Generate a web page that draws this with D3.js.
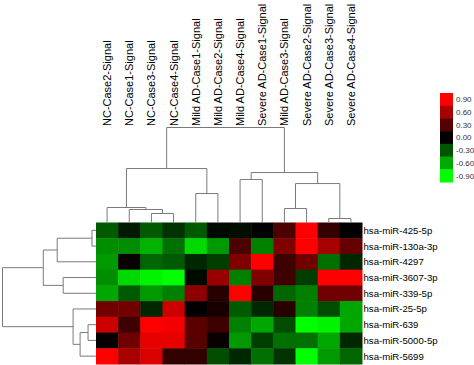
<!DOCTYPE html>
<html>
<head>
<meta charset="utf-8">
<script src="https://cdnjs.cloudflare.com/ajax/libs/d3/7.8.5/d3.min.js"></script>
<style>
  body { margin: 0; background: #fff; }
  svg { display: block; font-family: "Liberation Sans", Arial, sans-serif; }
</style>
</head>
<body>
<script>
// column order as displayed
var samples = ["NC-Case2-Signal", "NC-Case1-Signal", "NC-Case3-Signal", "NC-Case4-Signal",
  "Mild AD-Case1-Signal", "Mild AD-Case2-Signal", "Mild AD-Case4-Signal", "Severe AD-Case1-Signal",
  "Mild AD-Case3-Signal", "Severe AD-Case2-Signal", "Severe AD-Case3-Signal", "Severe AD-Case4-Signal"];

var mirnas = ["hsa-miR-425-5p", "hsa-miR-130a-3p", "hsa-miR-4297", "hsa-miR-3607-3p",
  "hsa-miR-339-5p", "hsa-miR-25-5p", "hsa-miR-639", "hsa-miR-5000-5p", "hsa-miR-5699"];

// one row per miRNA, one value per sample
var values = [
  [-0.32, -0.09, -0.32, -0.18, -0.32, -0.03, -0.05, 0.00, 0.27, 0.90, 0.18, 0.00],
  [-0.50, -0.50, -0.63, -0.40, -0.77, -0.54, 0.27, -0.45, 0.45, 0.90, 0.59, 0.36],
  [-0.54, 0.03, -0.36, -0.32, -0.14, -0.22, 0.45, 0.90, 0.22, 0.40, -0.40, -0.14],
  [-0.50, -0.77, -0.86, -0.90, -0.03, 0.54, -0.45, 0.45, 0.22, -0.22, 0.90, 0.90],
  [-0.59, -0.32, -0.54, -0.45, 0.50, 0.14, 0.90, 0.14, -0.36, -0.45, 0.40, 0.40],
  [0.40, 0.40, -0.14, 0.72, 0.00, 0.09, -0.32, -0.14, 0.14, -0.45, -0.27, -0.59],
  [0.72, 0.22, 0.90, 0.86, 0.32, 0.22, -0.45, -0.59, -0.27, -0.90, -0.86, -0.59],
  [0.02, 0.40, 0.81, 0.81, 0.32, 0.03, -0.54, -0.22, -0.40, -0.40, -0.59, -0.14],
  [0.90, 0.59, 0.77, 0.18, 0.18, -0.27, -0.14, -0.40, -0.18, -0.90, -0.54, -0.36]
];

// hclust style merges: negative = leaf (1-based), positive = earlier merge; third = height
var colMerge = [
  [-3, -4, 0.095], [-2, 1, 0.137], [-1, 2, 0.158], [-5, -6, 0.305], [3, 4, 0.568],
  [-7, -8, 0.453], [-9, -10, 0.147], [-11, -12, 0.042], [7, 8, 0.41], [6, 9, 0.526], [5, 10, 1.0]
];
var rowMerge = [
  [-1, -2, 0.043], [1, -3, 0.415], [-4, -5, 0.351], [2, 3, 0.564],
  [-7, -8, 0.085], [5, -9, 0.17], [-6, 6, 0.245], [4, 7, 1.0]
];

var legendValues = [0.90, 0.60, 0.30, 0.00, -0.30, -0.60, -0.90];

var width = 474, height = 365;
var hm = {left: 96, right: 362, top: 222.5, bottom: 364};

var svg = d3.select("body").append("svg")
  .attr("width", width)
  .attr("height", height);

var x = d3.scaleBand().domain(d3.range(samples.length)).range([hm.left, hm.right]);
var y = d3.scaleBand().domain(d3.range(mirnas.length)).range([hm.top, hm.bottom]);

var color = d3.scaleLinear()
  .domain([-0.9, 0, 0.9])
  .range(["#00ff00", "#000000", "#ff0000"])
  .clamp(true);

// cells
var cells = [];
values.forEach(function(row, i) {
  row.forEach(function(v, j) { cells.push({r: i, c: j, v: v}); });
});

svg.append("g").selectAll("rect")
  .data(cells)
  .enter()
  .append("rect")
  .attr("x", d => x(d.c))
  .attr("y", d => y(d.r))
  .attr("width", x.bandwidth() + 0.5)
  .attr("height", y.bandwidth() + 0.5)
  .attr("fill", d => color(d.v));

// column labels
svg.append("g").selectAll("text")
  .data(samples)
  .enter()
  .append("text")
  .attr("transform", (d, i) => "translate(" + (x(i) + x.bandwidth() / 2) + ",126) rotate(-90)")
  .attr("dy", "0.36em")
  .style("font-size", "11px")
  .style("fill", "#000")
  .text(d => d);

// row labels
svg.append("g").selectAll("text")
  .data(mirnas)
  .enter()
  .append("text")
  .attr("x", hm.right + 1.5)
  .attr("y", (d, i) => y(i) + y.bandwidth() / 2)
  .attr("dy", "0.36em")
  .style("font-size", "9.6px")
  .style("fill", "#000")
  .text(d => d);

// dendrograms
function buildTree(merge, leafPos) {
  var nodes = [];
  function get(k) {
    if (k < 0) return {pos: leafPos(-k - 1), h: 0};
    return nodes[k - 1];
  }
  var segs = [];
  merge.forEach(function(m) {
    var a = get(m[0]), b = get(m[1]);
    segs.push({a: a, b: b, h: m[2]});
    nodes.push({pos: (a.pos + b.pos) / 2, h: m[2]});
  });
  return segs;
}

var colH = d3.scaleLinear().domain([0, 1]).range([hm.top, 127.5]);
var colSegs = buildTree(colMerge, i => x(i) + x.bandwidth() / 2);

svg.append("g").selectAll("path")
  .data(colSegs)
  .enter()
  .append("path")
  .attr("d", d => "M" + d.a.pos + "," + colH(d.a.h) + "V" + colH(d.h) +
    "H" + d.b.pos + "V" + colH(d.b.h))
  .attr("fill", "none")
  .attr("stroke", "#7a7a7a")
  .attr("stroke-width", 1);

var rowH = d3.scaleLinear().domain([0, 1]).range([hm.left, 2.5]);
var rowSegs = buildTree(rowMerge, i => y(i) + y.bandwidth() / 2);

svg.append("g").selectAll("path")
  .data(rowSegs)
  .enter()
  .append("path")
  .attr("d", d => "M" + rowH(d.a.h) + "," + d.a.pos + "H" + rowH(d.h) +
    "V" + d.b.pos + "H" + rowH(d.b.h))
  .attr("fill", "none")
  .attr("stroke", "#7a7a7a")
  .attr("stroke-width", 1);

// legend
var ly = d3.scaleBand().domain(d3.range(legendValues.length)).range([93, 182]);

svg.append("g").selectAll("rect")
  .data(legendValues)
  .enter()
  .append("rect")
  .attr("x", 440)
  .attr("y", (d, i) => ly(i))
  .attr("width", 13)
  .attr("height", ly.bandwidth() + 0.5)
  .attr("fill", d => color(d));

svg.append("g").selectAll("text")
  .data(legendValues)
  .enter()
  .append("text")
  .attr("x", 456)
  .attr("y", (d, i) => ly(i) + ly.bandwidth() / 2)
  .attr("dy", "0.36em")
  .style("font-size", "8px")
  .style("fill", "#333")
  .text(d => d3.format(".2f")(d).replace("\u2212", "-"));
</script>
</body>
</html>
